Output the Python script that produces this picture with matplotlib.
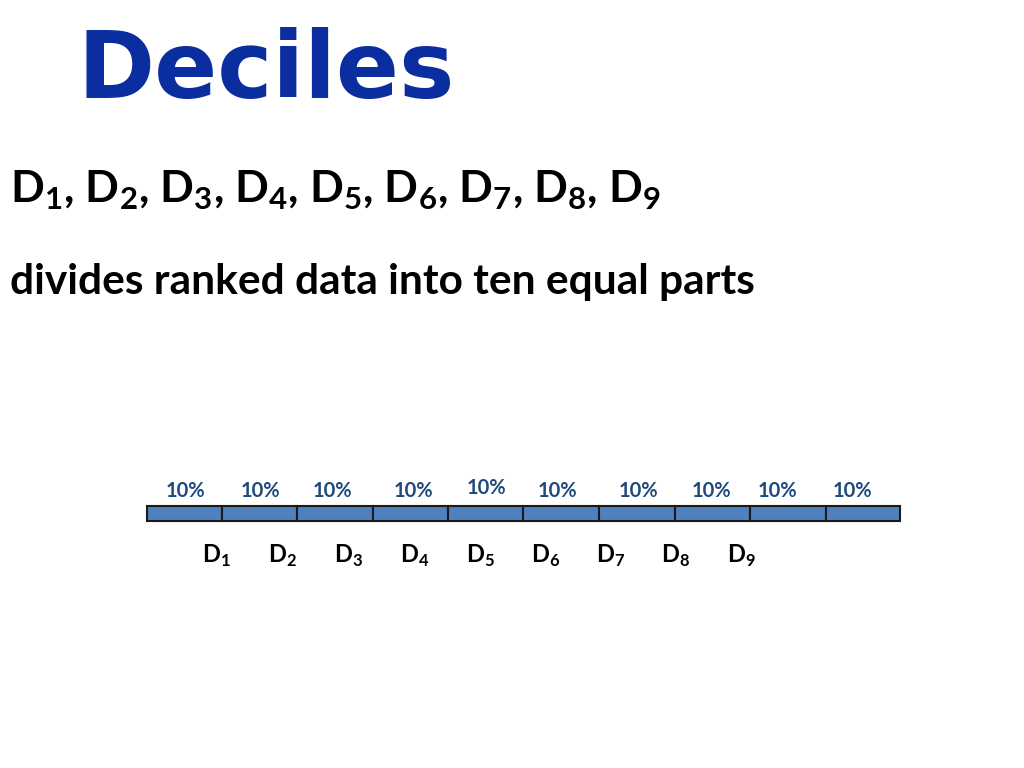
import matplotlib.pyplot as plt
from matplotlib.patches import Rectangle

# segment boundaries of the ranked-data bar (pixel-style units)
seg_edges = [147, 222, 297, 373, 448, 523, 599, 675, 750, 826, 900]
pct_labels = ["10%"] * 10
pct_x = [185, 260, 332, 413, 486, 557, 638, 711, 777, 852]
pct_y = [491, 491, 491, 491, 488, 491, 491, 491, 491, 491]
dec_labels = ["D$_{%d}$" % i for i in range(1, 10)]
dec_x = [216, 282, 349, 415, 480, 546, 611, 676, 741]

fig = plt.figure(figsize=(10.24, 7.68), dpi=100)
ax = fig.add_axes([0, 0, 1, 1])
ax.set_xlim(0, 1024)
ax.set_ylim(768, 0)
ax.axis("off")

plt.rcParams["mathtext.fontset"] = "custom"
plt.rcParams["mathtext.rm"] = "Lato:bold"

ax.text(78, 72, "Deciles", fontsize=67, fontweight="black", color="#0A2DA0",
        family="DejaVu Sans", va="center", ha="left")
ax.text(10, 190, "D$_1$, D$_2$, D$_3$, D$_4$, D$_5$, D$_6$, D$_7$, D$_8$, D$_9$",
        fontsize=32, fontweight="bold", family="Lato", va="center", ha="left")
ax.text(10, 282, "divides ranked data into ten equal parts",
        fontsize=30.5, fontweight="bold", family="Lato", va="center", ha="left")

for x0, x1 in zip(seg_edges[:-1], seg_edges[1:]):
    ax.add_patch(Rectangle((x0, 506), x1 - x0, 15, facecolor="#4F81BD",
                           edgecolor="#1a1a1a", lw=1.5))

for x, y, s in zip(pct_x, pct_y, pct_labels):
    ax.text(x, y, s, fontsize=14.5, fontweight="bold", family="Lato",
            color="#1F497D", ha="center", va="center")

for x, s in zip(dec_x, dec_labels):
    ax.text(x, 556, s, fontsize=17, fontweight="bold", family="Lato",
            ha="center", va="center")

fig.savefig("out.png", dpi=100)
